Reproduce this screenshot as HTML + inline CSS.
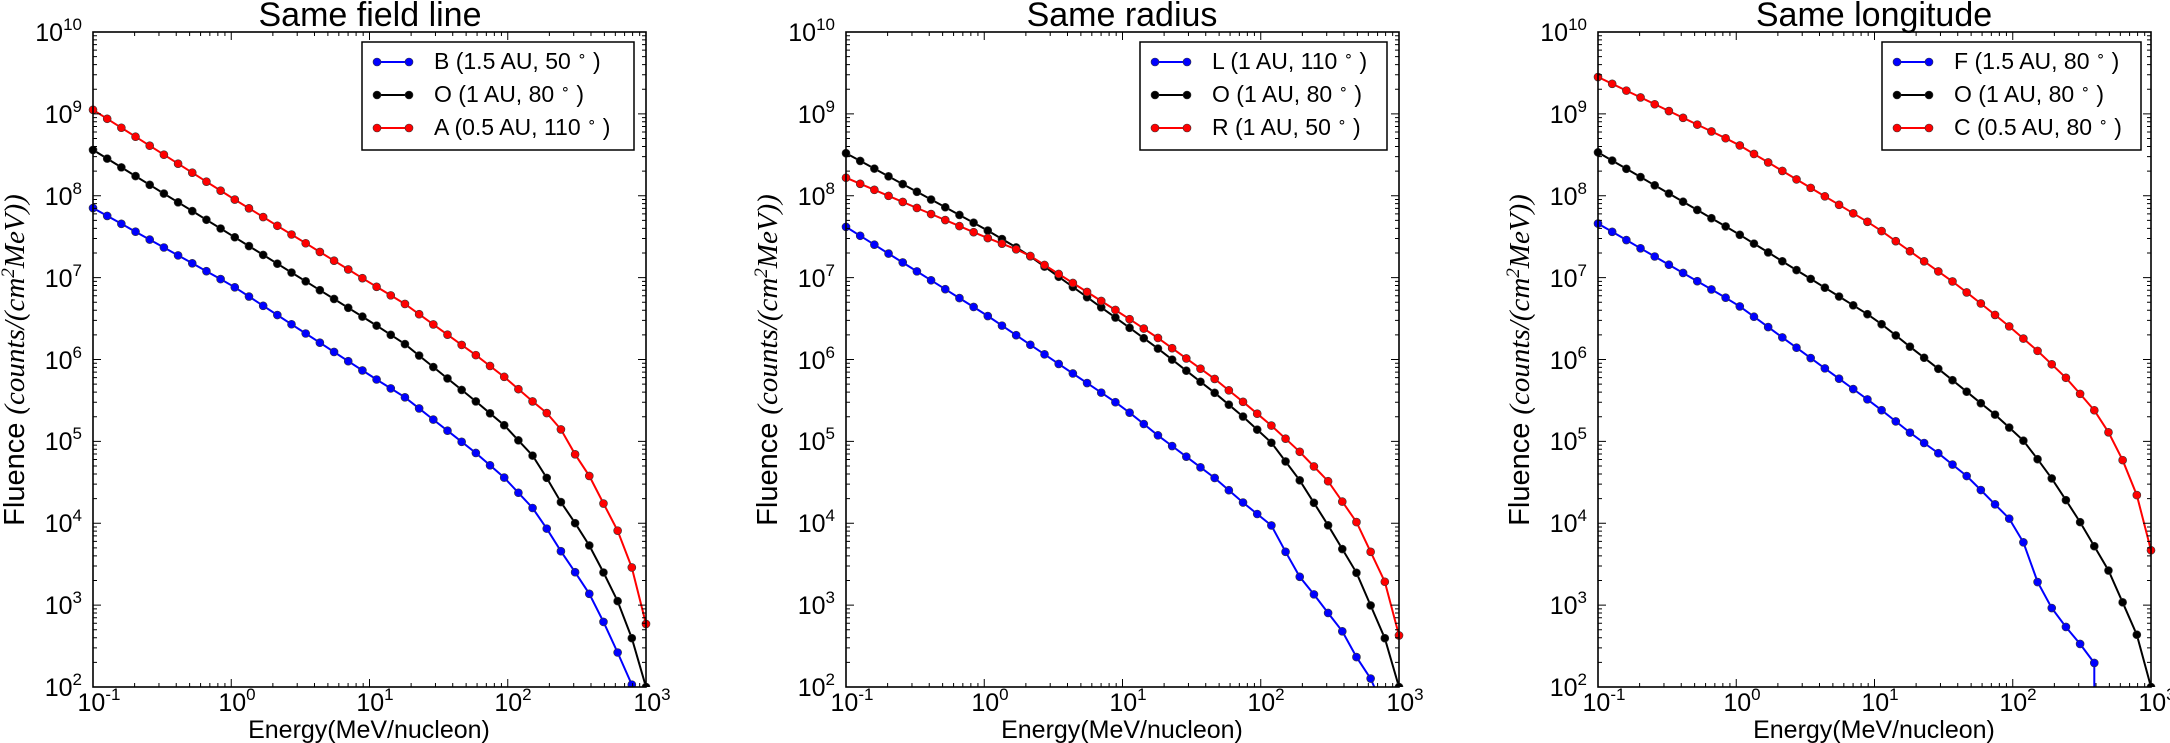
<!DOCTYPE html>
<html><head><meta charset="utf-8"><style>
html,body{margin:0;padding:0;background:#fff;}
svg{display:block;font-family:"Liberation Sans",sans-serif;}
</style></head><body>
<svg id="s" width="2170" height="743" xmlns="http://www.w3.org/2000/svg">
<g font-size="34" text-anchor="middle">
<text x="370" y="26">Same field line</text>
<text x="1122" y="26">Same radius</text>
<text x="1874" y="26">Same longitude</text>
</g>
<g font-size="25" text-anchor="middle">
<text x="369" y="738">Energy(MeV/nucleon)</text>
<text x="1122" y="738">Energy(MeV/nucleon)</text>
<text x="1874" y="738">Energy(MeV/nucleon)</text>
</g>
<g font-size="29">
<text transform="translate(24,360) rotate(-90)" text-anchor="middle">Fluence <tspan font-family="'Liberation Serif',serif" font-style="italic">(counts/(cm<tspan font-size="19" dy="-10">2</tspan><tspan dy="10">MeV))</tspan></tspan></text>
<text transform="translate(777,360) rotate(-90)" text-anchor="middle">Fluence <tspan font-family="'Liberation Serif',serif" font-style="italic">(counts/(cm<tspan font-size="19" dy="-10">2</tspan><tspan dy="10">MeV))</tspan></tspan></text>
<text transform="translate(1529,360) rotate(-90)" text-anchor="middle">Fluence <tspan font-family="'Liberation Serif',serif" font-style="italic">(counts/(cm<tspan font-size="19" dy="-10">2</tspan><tspan dy="10">MeV))</tspan></tspan></text>
</g>
<g id="ticklabels" font-size="25">
<g text-anchor="end">
<text x="82" y="41">10<tspan font-size="17" dy="-11">10</tspan></text>
<text x="82" y="123">10<tspan font-size="17" dy="-11">9</tspan></text>
<text x="82" y="205">10<tspan font-size="17" dy="-11">8</tspan></text>
<text x="82" y="287">10<tspan font-size="17" dy="-11">7</tspan></text>
<text x="82" y="369">10<tspan font-size="17" dy="-11">6</tspan></text>
<text x="82" y="450">10<tspan font-size="17" dy="-11">5</tspan></text>
<text x="82" y="532">10<tspan font-size="17" dy="-11">4</tspan></text>
<text x="82" y="614">10<tspan font-size="17" dy="-11">3</tspan></text>
<text x="82" y="696">10<tspan font-size="17" dy="-11">2</tspan></text>
</g>
<g text-anchor="end">
<text x="835" y="41">10<tspan font-size="17" dy="-11">10</tspan></text>
<text x="835" y="123">10<tspan font-size="17" dy="-11">9</tspan></text>
<text x="835" y="205">10<tspan font-size="17" dy="-11">8</tspan></text>
<text x="835" y="287">10<tspan font-size="17" dy="-11">7</tspan></text>
<text x="835" y="369">10<tspan font-size="17" dy="-11">6</tspan></text>
<text x="835" y="450">10<tspan font-size="17" dy="-11">5</tspan></text>
<text x="835" y="532">10<tspan font-size="17" dy="-11">4</tspan></text>
<text x="835" y="614">10<tspan font-size="17" dy="-11">3</tspan></text>
<text x="835" y="696">10<tspan font-size="17" dy="-11">2</tspan></text>
</g>
<g text-anchor="end">
<text x="1587" y="41">10<tspan font-size="17" dy="-11">10</tspan></text>
<text x="1587" y="123">10<tspan font-size="17" dy="-11">9</tspan></text>
<text x="1587" y="205">10<tspan font-size="17" dy="-11">8</tspan></text>
<text x="1587" y="287">10<tspan font-size="17" dy="-11">7</tspan></text>
<text x="1587" y="369">10<tspan font-size="17" dy="-11">6</tspan></text>
<text x="1587" y="450">10<tspan font-size="17" dy="-11">5</tspan></text>
<text x="1587" y="532">10<tspan font-size="17" dy="-11">4</tspan></text>
<text x="1587" y="614">10<tspan font-size="17" dy="-11">3</tspan></text>
<text x="1587" y="696">10<tspan font-size="17" dy="-11">2</tspan></text>
</g>
<g text-anchor="middle">
<text x="99" y="711">10<tspan font-size="17" dy="-11">-1</tspan></text>
<text x="237" y="711">10<tspan font-size="17" dy="-11">0</tspan></text>
<text x="375" y="711">10<tspan font-size="17" dy="-11">1</tspan></text>
<text x="513" y="711">10<tspan font-size="17" dy="-11">2</tspan></text>
<text x="652" y="711">10<tspan font-size="17" dy="-11">3</tspan></text>
<text x="852" y="711">10<tspan font-size="17" dy="-11">-1</tspan></text>
<text x="990" y="711">10<tspan font-size="17" dy="-11">0</tspan></text>
<text x="1128" y="711">10<tspan font-size="17" dy="-11">1</tspan></text>
<text x="1266" y="711">10<tspan font-size="17" dy="-11">2</tspan></text>
<text x="1405" y="711">10<tspan font-size="17" dy="-11">3</tspan></text>
<text x="1604" y="711">10<tspan font-size="17" dy="-11">-1</tspan></text>
<text x="1742" y="711">10<tspan font-size="17" dy="-11">0</tspan></text>
<text x="1880" y="711">10<tspan font-size="17" dy="-11">1</tspan></text>
<text x="2018" y="711">10<tspan font-size="17" dy="-11">2</tspan></text>
<text x="2157" y="711">10<tspan font-size="17" dy="-11">3</tspan></text>
</g>
</g>
<g id="plots"></g>
<g id="legends" font-size="23">
<rect x="362" y="42" width="272" height="108" fill="#fff" stroke="#000" stroke-width="1.5"/>
<text x="434" y="69">B (1.5 AU, 50 <tspan font-size="15" dy="-8">∘</tspan><tspan dy="8"> )</tspan></text>
<text x="434" y="102">O (1 AU, 80 <tspan font-size="15" dy="-8">∘</tspan><tspan dy="8"> )</tspan></text>
<text x="434" y="135">A (0.5 AU, 110 <tspan font-size="15" dy="-8">∘</tspan><tspan dy="8"> )</tspan></text>
<rect x="1140" y="42" width="247" height="108" fill="#fff" stroke="#000" stroke-width="1.5"/>
<text x="1212" y="69">L (1 AU, 110 <tspan font-size="15" dy="-8">∘</tspan><tspan dy="8"> )</tspan></text>
<text x="1212" y="102">O (1 AU, 80 <tspan font-size="15" dy="-8">∘</tspan><tspan dy="8"> )</tspan></text>
<text x="1212" y="135">R (1 AU, 50 <tspan font-size="15" dy="-8">∘</tspan><tspan dy="8"> )</tspan></text>
<rect x="1882" y="42" width="259" height="108" fill="#fff" stroke="#000" stroke-width="1.5"/>
<text x="1954" y="69">F (1.5 AU, 80 <tspan font-size="15" dy="-8">∘</tspan><tspan dy="8"> )</tspan></text>
<text x="1954" y="102">O (1 AU, 80 <tspan font-size="15" dy="-8">∘</tspan><tspan dy="8"> )</tspan></text>
<text x="1954" y="135">C (0.5 AU, 80 <tspan font-size="15" dy="-8">∘</tspan><tspan dy="8"> )</tspan></text>
</g>
</svg>
<script>
(function(){
var NS="http://www.w3.org/2000/svg";
var plots=document.getElementById('plots'), leg=document.getElementById('legends');
var T=32,B=687,W=553,H=655;
var lefts=[93,846,1598];
function el(n,a,p){var e=document.createElementNS(NS,n);for(var k in a)e.setAttribute(k,a[k]);(p||plots).appendChild(e);return e;}
function interp(a,x){if(x<=a[0][0])return a[0][1];for(var i=0;i<a.length-1;i++){if(x<=a[i+1][0]+1e-9){var t=(x-a[i][0])/(a[i+1][0]-a[i][0]);return a[i][1]+t*(a[i+1][1]-a[i][1]);}}var n=a.length;var t=(x-a[n-2][0])/(a[n-1][0]-a[n-2][0]);return a[n-2][1]+t*(a[n-1][1]-a[n-2][1]);}
var data=[
 [ {c:'#0000ff',d:[[-1,7.85],[0,6.91],[1,5.81],[1.255,5.54],[1.768,4.86],[1.973,4.56],[2.178,4.19],[2.28,3.94],[2.38,3.67],[2.48,3.42],[2.58,3.17],[2.68,2.84],[2.79,2.44],[2.89,2.06],[3,1.6]]},
   {c:'#000',d:[[-1,8.56],[0,7.52],[1,6.47],[1.255,6.19],[1.768,5.49],[1.973,5.2],[2.178,4.83],[2.28,4.56],[2.38,4.27],[2.48,4.02],[2.58,3.76],[2.68,3.44],[2.79,3.07],[2.89,2.64],[3,2.0]]},
   {c:'#ff0000',d:[[-1,9.05],[0,7.98],[1,6.94],[1.255,6.68],[1.768,6.055],[1.973,5.79],[2.178,5.49],[2.28,5.35],[2.38,5.16],[2.48,4.86],[2.58,4.61],[2.68,4.28],[2.79,3.93],[2.89,3.51],[3,2.77]]} ],
 [ {c:'#0000ff',d:[[-1,7.62],[0,6.56],[1,5.42],[1.259,5.07],[1.464,4.81],[1.669,4.55],[1.874,4.25],[2.079,3.97],[2.18,3.65],[2.284,3.34],[2.39,3.12],[2.489,2.9],[2.59,2.68],[2.694,2.36],[2.8,2.09],[2.9,1.7],[3,1.3]]},
   {c:'#000',d:[[-1,8.52],[0,7.6],[0.3,7.3],[1,6.45],[1.259,6.13],[1.464,5.86],[1.669,5.59],[1.874,5.3],[2.079,4.98],[2.284,4.52],[2.489,3.97],[2.694,3.39],[2.899,2.59],[3,2.0]]},
   {c:'#ff0000',d:[[-1,8.22],[0,7.5],[0.3,7.3],[1,6.55],[1.259,6.26],[1.464,6.01],[1.669,5.76],[1.874,5.48],[2.079,5.19],[2.284,4.87],[2.489,4.51],[2.694,4.01],[2.899,3.28],[3,2.63]]} ],
 [ {c:'#0000ff',d:[[-1,7.66],[0,6.68],[1,5.45],[1.269,5.09],[1.474,4.84],[1.679,4.56],[1.884,4.21],[1.99,4.03],[2.089,3.73],[2.19,3.23],[2.294,2.93],[2.4,2.7],[2.5,2.5],[2.6,2.27]],end:2.6,drop:true},
   {c:'#000',d:[[-1,8.53],[0,7.55],[1,6.5],[1.269,6.14],[1.474,5.87],[1.679,5.59],[1.884,5.31],[2.089,4.99],[2.294,4.52],[2.5,3.98],[2.7,3.4],[2.91,2.59],[3,2.0]]},
   {c:'#ff0000',d:[[-1,9.45],[0,8.64],[1,7.63],[1.575,6.94],[1.78,6.67],[1.985,6.39],[2.19,6.09],[2.395,5.76],[2.6,5.36],[2.7,5.09],[2.81,4.72],[2.91,4.29],[3,3.67]]} ]
];
lefts.forEach(function(L,pi){
  var cid='cp'+pi;
  var cp=el('clipPath',{id:cid});el('rect',{x:L-6,y:T,width:W+12,height:H},cp);
  var g=el('g',{'clip-path':'url(#'+cid+')'});
  var X=function(lx){return L+(lx+1)/4*W;}, Y=function(ly){return B-(ly-2)/8*H;};
  data[pi].forEach(function(s){
    var pts=[],mk=[];
    for(var k=0;k<=39;k++){var lx=-1+4*k/39;if(s.end!==undefined&&lx>s.end+0.01)break;var ly=interp(s.d,lx);pts.push(X(lx).toFixed(1)+','+Y(ly).toFixed(1));if(ly>1.95)mk.push([X(lx),Y(ly)]);}
    if(s.drop){pts.push(X(-1+4*35/39).toFixed(1)+','+(B+5));}
    el('polyline',{points:pts.join(' '),fill:'none',stroke:s.c,'stroke-width':2},g);
    mk.forEach(function(m){el('circle',{cx:m[0],cy:m[1],r:4,fill:s.c,stroke:'#333','stroke-width':0.6},g);});
  });
  var tk='';
  for(var d=-1;d<=3;d++){for(var m=1;m<=9;m++){var lx=d+Math.log10(m);if(lx>3.0001)break;var x=X(lx),len=(m==1)?8:4;
    tk+='M'+x+' '+B+'v'+(-len)+'M'+x+' '+T+'v'+len;}}
  for(var d=2;d<=10;d++){for(var m=1;m<=9;m++){var ly=d+Math.log10(m);if(ly>10.0001)break;var y=Y(ly),len=(m==1)?8:4;
    tk+='M'+L+' '+y+'h'+len+'M'+(L+W)+' '+y+'h'+(-len);}}
  el('path',{d:tk,stroke:'#000','stroke-width':1,fill:'none'});
  el('rect',{x:L,y:T,width:W,height:H,fill:'none',stroke:'#000','stroke-width':1.6});
});
[362,1140,1882].forEach(function(bx){var x0=bx+15;['#0000ff','#000','#ff0000'].forEach(function(c,i){var y=62+33*i;
  el('line',{x1:x0,y1:y,x2:x0+32,y2:y,stroke:c,'stroke-width':2},leg);
  el('circle',{cx:x0,cy:y,r:4,fill:c,stroke:'#333','stroke-width':0.6},leg);
  el('circle',{cx:x0+32,cy:y,r:4,fill:c,stroke:'#333','stroke-width':0.6},leg);});});
})();
</script>
</body></html>
